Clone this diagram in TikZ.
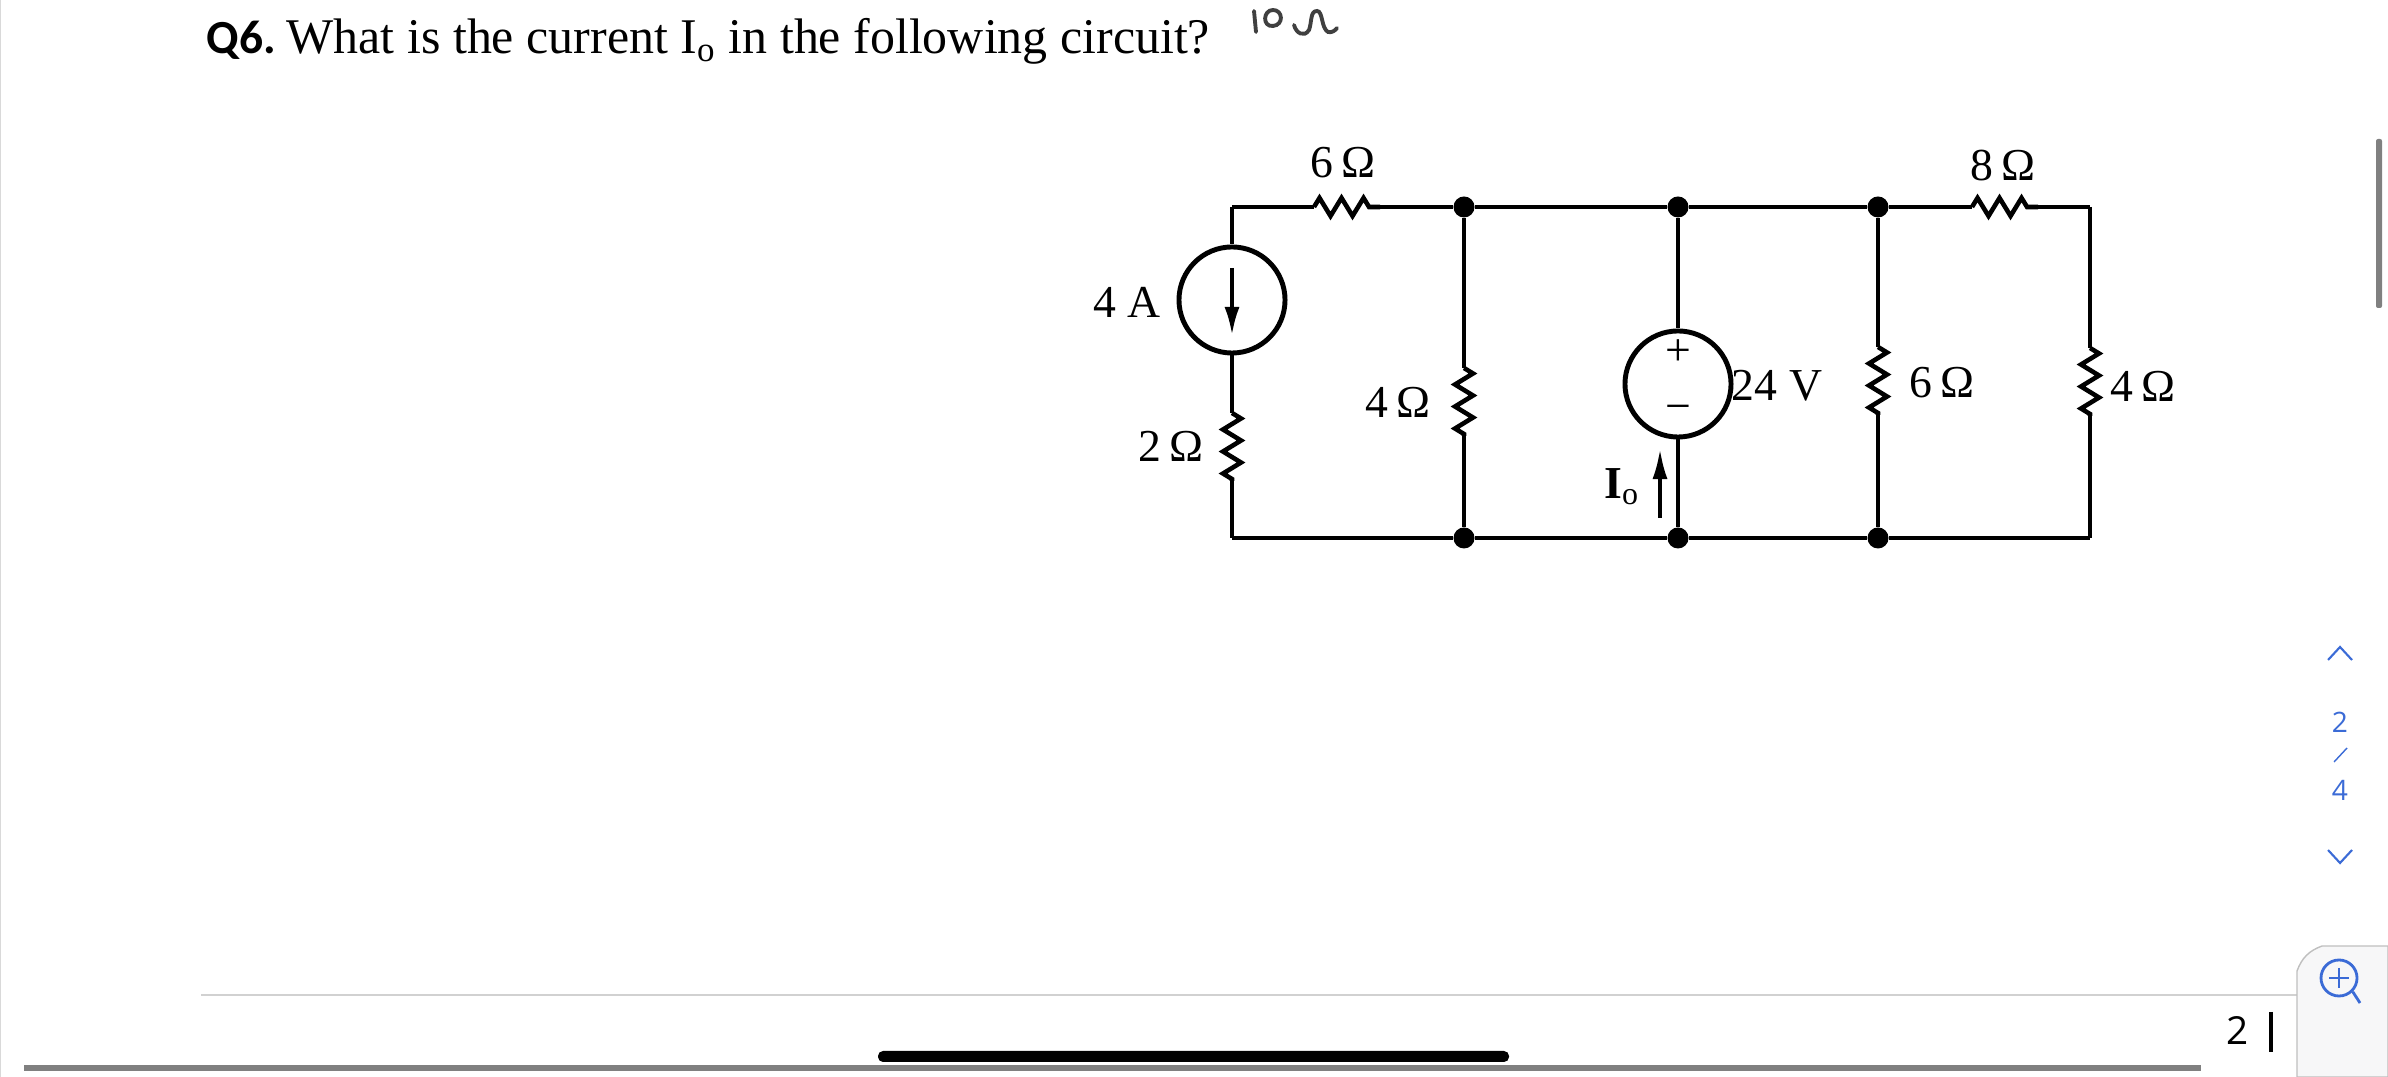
\documentclass[tikz,border=0pt]{standalone}
\usepackage{fontspec}
\setmainfont{Liberation Serif}
\newfontfamily\qfont{Carlito}
\newfontfamily\uifont{Open Sans}
\usetikzlibrary{decorations.pathmorphing,arrows.meta}
\definecolor{uiblue}{HTML}{3B6BD6}
\tikzset{
  wire/.style={line width=1pt},
  heavy/.style={line width=1.4pt},
  junc/.style={circle,fill=black,inner sep=0pt,minimum size=0.21cm},
  source/.style={circle,draw,line width=1.4pt,inner sep=0pt,minimum size=1.06cm},
  res/.style={line width=1.3pt,decorate,decoration={zigzag,amplitude=0.09cm,segment length=0.22cm}},
  val/.style={font=\fontsize{13}{15}\selectfont,inner sep=0pt},
  ui/.style={line width=0.6pt,uiblue},
  pencil/.style={line width=1.1pt,black!75,line cap=round}
}
\begin{document}
\begin{tikzpicture}[x=0.01cm,y=-0.01cm]
  \useasboundingbox (0,0) rectangle (2388,1077);
  % page furniture
  \draw [black!15] (0.5,0) -- (0.5,1077);
  \draw [line width=0.5pt,black!18] (201,995) -- (2297,995);
  \draw [fill=blue!3!black!3,draw=black!25] (2388,946) -- (2322,946) to [bend right=25] (2297,971) -- (2297,1077) -- (2388,1077) -- cycle;
  \fill [black!50] (24,1065) rectangle (2201,1071);
  \fill [black, rounded corners=0.05cm] (878,1051) rectangle (1509,1062);
  \fill [black!50, rounded corners=0.02cm] (2376,139) rectangle (2382,308);
  % question
  \node [anchor=base west,inner sep=0pt,font=\qfont\bfseries\fontsize{13.5}{15}\selectfont] (q) at (206,54) {Q6.};
  \node [anchor=base west,inner sep=0pt,font=\fontsize{14.2}{16}\selectfont] (qtext) at (286,54) {What is the current I\textsubscript{o} in the following circuit?};
  % wires
  \node [junc] (t1) at (1464,207) {};
  \node [junc] (t2) at (1678,207) {};
  \node [junc] (t3) at (1878,207) {};
  \node [junc] (b1) at (1464,538) {};
  \node [junc] (b2) at (1678,538) {};
  \node [junc] (b3) at (1878,538) {};
  \coordinate (tl) at (1232,207);
  \coordinate (tr) at (2090,207);
  \coordinate (bl) at (1232,538);
  \coordinate (br) at (2090,538);
  \node [source] (is) at (1232,300) {};
  \node [source] (vs) at (1678,384) {};
  \coordinate (r1a) at (1314,207);
  \coordinate (r1b) at (1380,207);
  \coordinate (r2a) at (1972,207);
  \coordinate (r2b) at (2038,207);
  \coordinate (r3a) at (1232,413);
  \coordinate (r3b) at (1232,481);
  \coordinate (r4a) at (1464,368);
  \coordinate (r4b) at (1464,436);
  \coordinate (r5a) at (1878,347);
  \coordinate (r5b) at (1878,415);
  \coordinate (r6a) at (2090,348);
  \coordinate (r6b) at (2090,416);
  \draw [res] (r1a) -- (r1b);
  \draw [res] (r2a) -- (r2b);
  \draw [res] (r3a) -- (r3b);
  \draw [res] (r4a) -- (r4b);
  \draw [res] (r5a) -- (r5b);
  \draw [res] (r6a) -- (r6b);
  \draw [heavy] (tl) -- (r1a);
  \draw [heavy] (r1b) -- (t1);
  \draw [heavy] (t1) -- (t2);
  \draw [heavy] (t2) -- (t3);
  \draw [heavy] (t3) -- (r2a);
  \draw [heavy] (r2b) -- (tr);
  \draw [wire] (tl) -- (is);
  \draw [wire] (is) -- (r3a);
  \draw [wire] (r3b) -- (bl);
  \draw [wire] (bl) -- (b1);
  \draw [wire] (b1) -- (b2);
  \draw [wire] (b2) -- (b3);
  \draw [wire] (b3) -- (br);
  \draw [wire] (t1) -- (r4a);
  \draw [wire] (r4b) -- (b1);
  \draw [heavy] (t2) -- (vs);
  \draw [wire] (vs) -- (b2);
  \draw [wire] (t3) -- (r5a);
  \draw [wire] (r5b) -- (b3);
  \draw [heavy] (tr) -- (r6a);
  \draw [wire] (r6b) -- (br);
  % source arrows and signs
  \coordinate (ia) at (1232,268);
  \coordinate (ib) at (1232,335);
  \draw [wire,-{Latex[length=0.28cm,width=0.15cm]}] (ia) -- (ib);
  \node [val] (plus) at (1678,353) {+};
  \node [val] (minus) at (1678,413) {\textminus};
  \coordinate (ioa) at (1660,518);
  \coordinate (iob) at (1660,449);
  \draw [wire,-{Latex[length=0.3cm,width=0.15cm]}] (ioa) -- (iob);
  % values
  \node [val] (l6a) at (1343,163) {6\,Ω};
  \node [val] (l8) at (2003,166) {8\,Ω};
  \node [val] (l4a) at (1127,302) {4 A};
  \node [val] (l2) at (1171,446) {2\,Ω};
  \node [val] (l4b) at (1398,402) {4\,Ω};
  \node [val] (l24) at (1777,386) {24 V};
  \node [val] (l6b) at (1942,383) {6\,Ω};
  \node [val] (l4c) at (2143,386) {4\,Ω};
  \node [val] (lio) at (1622,487) {\textbf{I}\textsubscript{o}};
  % pencil note
  \draw [pencil] (1254,11) -- (1256,32);
  \draw [pencil] (1273,10) .. controls (1263,10) and (1262,27) .. (1273,26) .. controls (1284,25) and (1283,10) .. (1273,10);
  \draw [pencil] (1294,25) .. controls (1296,33) and (1304,38) .. (1309,30) .. controls (1312,22) and (1310,11) .. (1317,11) .. controls (1323,11) and (1321,28) .. (1328,32) .. controls (1331,33) and (1335,31) .. (1337,28);
  % viewer controls
  \draw [ui] (2328,660) -- (2340,647) -- (2352,660);
  \node [inner sep=0pt,uiblue,font=\uifont\fontsize{8}{10}\selectfont] (pga) at (2340,722) {2};
  \draw [ui,line width=0.4pt] (2334,762) -- (2347,748);
  \node [inner sep=0pt,uiblue,font=\uifont\fontsize{8}{10}\selectfont] (pgb) at (2340,790) {4};
  \draw [ui] (2328,850) -- (2340,863) -- (2352,850);
  \node [circle,draw=uiblue,line width=0.8pt,inner sep=0pt,minimum size=0.36cm] (zoom) at (2339,978) {};
  \draw [uiblue,line width=0.8pt] (zoom.south east) -- (2360,1003);
  \draw [uiblue,line width=0.7pt] (2329,978) -- (2349,978);
  \draw [uiblue,line width=0.7pt] (2339,968) -- (2339,988);
  \node [inner sep=0pt,font=\uifont\fontsize{11}{13}\selectfont] (pg) at (2238,1030) {2};
  \draw [line width=0.9pt] (2271,1012) -- (2271,1052);
\end{tikzpicture}
\end{document}
